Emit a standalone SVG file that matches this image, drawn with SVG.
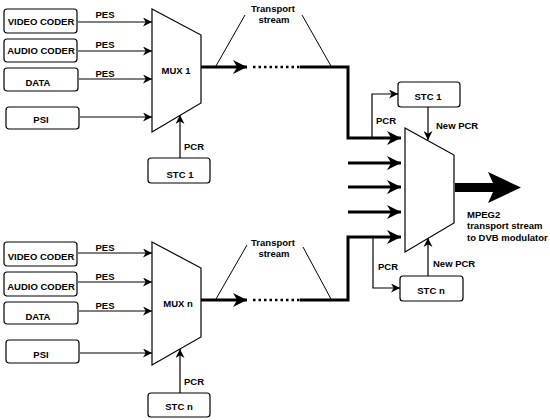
<svg xmlns="http://www.w3.org/2000/svg" width="550" height="420" viewBox="0 0 550 420">
<style>
.box{fill:#fff;stroke:#000;stroke-width:1.2}
.mux{fill:#fff;stroke:#000;stroke-width:1.2}
.t{font-family:"Liberation Sans",Arial,sans-serif;font-weight:bold;font-size:9.5px;fill:#000}
.c{text-anchor:middle}
.thin{fill:none;stroke:#000;stroke-width:1.2}
.thick{fill:none;stroke:#000;stroke-width:3}
.dots{fill:none;stroke:#000;stroke-width:2.5;stroke-dasharray:2.5 3}
.lead{fill:none;stroke:#000;stroke-width:1}
</style>
<defs>
<marker id="a" viewBox="0 0 10 10" refX="10" refY="5" markerWidth="9" markerHeight="9" markerUnits="userSpaceOnUse" orient="auto">
<path d="M0,0 L10,5 L0,10 L3,5 z" fill="#000"/>
</marker>
<marker id="b" viewBox="0 0 10 10" refX="10" refY="5" markerWidth="14" markerHeight="14" markerUnits="userSpaceOnUse" orient="auto">
<path d="M0,0 L10,5 L0,10 L3,5 z" fill="#000"/>
</marker>
</defs>
<rect width="550" height="420" fill="#fff"/>

<g id="connectors">
<!-- top group inputs -->
<line class="thin" x1="78" y1="22" x2="152" y2="22" marker-end="url(#a)"/>
<line class="thin" x1="78" y1="51" x2="152" y2="51" marker-end="url(#a)"/>
<line class="thin" x1="79" y1="79" x2="152" y2="79" marker-end="url(#a)"/>
<line class="thin" x1="80" y1="117" x2="152" y2="117" marker-end="url(#a)"/>
<line class="thin" x1="180" y1="158" x2="180" y2="115" marker-end="url(#a)"/>
<!-- bottom group inputs -->
<line class="thin" x1="78" y1="253" x2="152" y2="253" marker-end="url(#a)"/>
<line class="thin" x1="78" y1="282" x2="152" y2="282" marker-end="url(#a)"/>
<line class="thin" x1="79" y1="311" x2="152" y2="311" marker-end="url(#a)"/>
<line class="thin" x1="80" y1="353" x2="152" y2="353" marker-end="url(#a)"/>
<line class="thin" x1="180" y1="393" x2="180" y2="349" marker-end="url(#a)"/>
<!-- mux outputs -->
<line class="thick" x1="201" y1="67" x2="247" y2="67" marker-end="url(#b)"/>
<line class="dots" x1="253" y1="67" x2="300" y2="67"/>
<polyline class="thick" points="300,67 348,67 348,138 401,138" marker-end="url(#b)"/>
<line class="thick" x1="201" y1="300" x2="247" y2="300" marker-end="url(#b)"/>
<line class="dots" x1="253" y1="300" x2="300" y2="300"/>
<polyline class="thick" points="300,300 348,300 348,237 401,237" marker-end="url(#b)"/>
<!-- extra inputs to final mux -->
<line class="thick" x1="348" y1="163" x2="401" y2="163" marker-end="url(#b)"/>
<line class="thick" x1="348" y1="187" x2="401" y2="187" marker-end="url(#b)"/>
<line class="thick" x1="348" y1="212" x2="401" y2="212" marker-end="url(#b)"/>
<!-- PCR branches -->
<polyline class="thin" points="372,138 372,94 398,94" marker-end="url(#a)"/>
<polyline class="thin" points="373,237 373,288 400,288" marker-end="url(#a)"/>
<line class="thin" x1="428" y1="107" x2="428" y2="140" marker-end="url(#a)"/>
<line class="thin" x1="428" y1="276" x2="428" y2="238" marker-end="url(#a)"/>
<!-- leader lines -->
<line class="lead" x1="245" y1="15" x2="216" y2="66"/>
<line class="lead" x1="302" y1="15" x2="331" y2="66"/>
<line class="lead" x1="247" y1="245" x2="216" y2="299"/>
<line class="lead" x1="303" y1="247" x2="331" y2="299"/>
<!-- final output -->
<path d="M455,183 L493,183 L488,172 L521,187.5 L488,203 L493,192 L455,192 z" fill="#000"/>
<text class="t c" x="105" y="18">PES</text>
<text class="t c" x="105" y="48">PES</text>
<text class="t c" x="105" y="77">PES</text>
<text class="t c" x="105" y="251">PES</text>
<text class="t c" x="105" y="280">PES</text>
<text class="t c" x="105" y="309">PES</text>
<text class="t" x="184" y="150">PCR</text>
<text class="t" x="184" y="385">PCR</text>
<text class="t" x="376" y="124">PCR</text>
<text class="t" x="378" y="270">PCR</text>
<text class="t" x="436" y="129">New PCR</text>
<text class="t" x="433" y="267">New PCR</text>
<text class="t c" x="273" y="12">Transport</text>
<text class="t c" x="274" y="23">stream</text>
<text class="t c" x="273" y="246">Transport</text>
<text class="t c" x="274" y="257">stream</text>
<text class="t" x="467" y="218">MPEG2</text>
<text class="t" x="467" y="229">transport stream</text>
<text class="t" x="467" y="241">to DVB modulator</text>
</g>

<g id="video1"><rect class="box" x="4" y="9" width="73" height="24" rx="3"/><text class="t c" x="41" y="25">VIDEO CODER</text></g>
<g id="audio1"><rect class="box" x="4" y="39" width="73" height="23" rx="3"/><text class="t c" x="41" y="54">AUDIO CODER</text></g>
<g id="data1"><rect class="box" x="4" y="68" width="74" height="23" rx="3"/><text class="t c" x="38" y="86">DATA</text></g>
<g id="psi1"><rect class="box" x="6" y="107" width="73" height="22" rx="3"/><text class="t c" x="41" y="123">PSI</text></g>
<g id="mux1"><polygon class="mux" points="152,9 201,35 201,103 152,132"/><text class="t c" x="176" y="74">MUX 1</text></g>
<g id="stc1a"><rect class="box" x="148" y="158" width="62" height="25" rx="3"/><text class="t c" x="180" y="178">STC 1</text></g>

<g id="video2"><rect class="box" x="4" y="242" width="73" height="24" rx="3"/><text class="t c" x="41" y="260">VIDEO CODER</text></g>
<g id="audio2"><rect class="box" x="4" y="272" width="73" height="24" rx="3"/><text class="t c" x="41" y="290">AUDIO CODER</text></g>
<g id="data2"><rect class="box" x="4" y="302" width="74" height="22" rx="3"/><text class="t c" x="38" y="320">DATA</text></g>
<g id="psi2"><rect class="box" x="6" y="340" width="73" height="23" rx="3"/><text class="t c" x="41" y="358">PSI</text></g>
<g id="muxn"><polygon class="mux" points="152,242 201,268 201,337 152,365"/><text class="t c" x="178" y="307">MUX n</text></g>
<g id="stcn_a"><rect class="box" x="148" y="393" width="62" height="24" rx="3"/><text class="t c" x="179" y="410">STC n</text></g>

<g id="stc1b"><rect class="box" x="398" y="82" width="62" height="25" rx="3"/><text class="t c" x="428" y="100">STC 1</text></g>
<g id="remux"><polygon class="mux" points="405,128 454,155 454,223 405,252"/></g>
<g id="stcn_b"><rect class="box" x="400" y="276" width="63" height="25" rx="3"/><text class="t c" x="431" y="294">STC n</text></g>
</svg>
